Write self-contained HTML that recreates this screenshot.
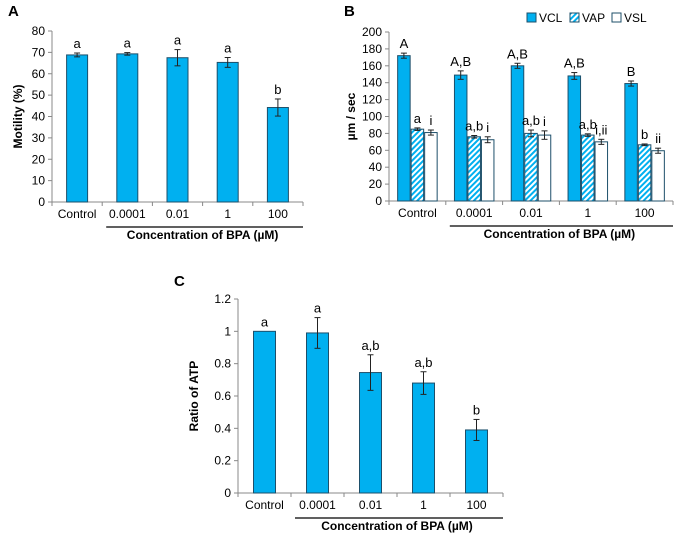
<!DOCTYPE html>
<html><head><meta charset="utf-8"><style>
body{margin:0;background:#fff;width:685px;height:536px;overflow:hidden}
svg{font-family:"Liberation Sans",Arial,sans-serif}
</style></head><body>
<svg id="s" width="685" height="536">
<defs><pattern id="hatch" patternUnits="userSpaceOnUse" width="4" height="4" patternTransform="rotate(45)"><rect width="4" height="4" fill="#fff"/><rect width="2" height="4" fill="#00b0f0"/></pattern></defs>
</svg>
<script>
const cats=["Control","0.0001","0.01","1","100"];
const motVals=[68.8,69.3,67.5,65.3,44.2];
const motErr=[0.9,0.6,3.8,2.3,4.0];
const motLetters=["a","a","a","a","b"];
const vclVals=[172,149,160,148,139];
const vclErr=[3,5,3,4,3];
const vclLetters=["A","A,B","A,B","A,B","B"];
const vapVals=[85,76,80,78,66.5];
const vapErr=[1.5,1.5,4,1.5,1];
const vapLetters=["a","a,b","a,b","a,b","b"];
const vslVals=[81,72.5,78,70,59.5];
const vslErr=[3,3.5,5,3,3];
const vslLetters=["i","i","i","i,ii","ii"];
const atpVals=[1,0.99,0.745,0.68,0.39];
const atpErr=[0,0.095,0.11,0.07,0.065];
const atpLetters=["a","a","a,b","a,b","b"];
const motTicks=[0,10,20,30,40,50,60,70,80];
const velTicks=[0,20,40,60,80,100,120,140,160,180,200];
const atpTicks=[0,0.2,0.4,0.6,0.8,1,1.2];
const atpTickLabels=["0","0.2","0.4","0.6","0.8","1","1.2"];

const S=document.getElementById('s');const NS="http://www.w3.org/2000/svg";
function el(t,a,txt){const e=document.createElementNS(NS,t);for(const k in a)e.setAttribute(k,a[k]);if(txt!==undefined)e.textContent=txt;S.appendChild(e);return e;}
function txt(x,y,s,opt,name){const e=el('text',Object.assign({x:x,y:y,'font-size':12,fill:'#000','text-anchor':'middle'},opt||{}),s);

return e;}

function panel(p){
  const y=v=>p.y0-(v-p.min)/(p.max-p.min)*(p.y0-p.y1);
  const cw=(p.x1-p.x0)/cats.length;
  const ax=el('line',{x1:p.x0,y1:p.y1,x2:p.x0,y2:p.y0,stroke:'#888'});
  
  
  const bx=el('line',{x1:p.x0,y1:p.y0,x2:p.x1,y2:p.y0,stroke:'#888'});
  
  
  p.ticks.forEach((t,i)=>{el('line',{x1:p.x0-4,y1:y(t),x2:p.x0,y2:y(t),stroke:'#888'});
    txt(p.x0-7,y(t)+4,p.tickLabels?p.tickLabels[i]:String(t),{'text-anchor':'end'},p.id+'-y-tick');});
  for(let i=0;i<=cats.length;i++)el('line',{x1:p.x0+i*cw,y1:p.y0,x2:p.x0+i*cw,y2:p.y0+4,stroke:'#888'});
  cats.forEach((c,i)=>txt(p.x0+(i+0.5)*cw,p.y0+16,c,{},p.id+'-x-tick'));
  const ul=el('line',{x1:p.x0+cw+4,y1:p.y0+25,x2:p.x1,y2:p.y0+25,stroke:'#000','stroke-width':1.2});
  
  
  txt((p.x0+cw+p.x1)/2,p.y0+37,'Concentration of BPA (µM)',{'font-weight':'bold'},p.id+'-x-axis-title');
  txt(p.ylx,(p.y0+p.y1)/2,p.ylabel,{'font-weight':'bold',transform:`rotate(-90 ${p.ylx} ${(p.y0+p.y1)/2})`},p.id+'-y-axis-title');
  txt(p.lx,p.ly,p.label,{'font-weight':'bold','font-size':15,'text-anchor':'start'},p.id+'-panel-label');
  const n=p.series.length;
  p.series.forEach((s,k)=>{
    s.vals.forEach((v,i)=>{
      const cx=p.x0+(i+0.5)*cw+(k-(n-1)/2)*(p.bw+1);
      const r=el('rect',{x:cx-p.bw/2,y:y(v),width:p.bw,height:p.y0-y(v),fill:s.fill,stroke:'#1d4f6a','stroke-width':1});
      
      
      const e=s.err[i];
      if(e>0){el('line',{x1:cx,y1:y(v+e),x2:cx,y2:y(v-e),stroke:'#222'});
        el('line',{x1:cx-3,y1:y(v+e),x2:cx+3,y2:y(v+e),stroke:'#222'});
        el('line',{x1:cx-3,y1:y(v-e),x2:cx+3,y2:y(v-e),stroke:'#222'});}
      txt(cx,y(v+e)-5,s.letters[i],{'font-size':13},p.id+'-sig-letter');
    });
  });
}
panel({id:'a',x0:52,x1:303,y0:202,y1:31,min:0,max:80,ticks:motTicks,ylabel:'Motility (%)',ylx:22,label:'A',lx:8,ly:16,bw:21,
  series:[{name:'motility',vals:motVals,err:motErr,letters:motLetters,fill:'#00b0f0'}]});
panel({id:'b',x0:389,x1:673,y0:201,y1:32,min:0,max:200,ticks:velTicks,ylabel:'µm / sec',ylx:355,label:'B',lx:344,ly:16,bw:12.5,
  series:[{name:'vcl',vals:vclVals,err:vclErr,letters:vclLetters,fill:'#00b0f0'},
          {name:'vap',vals:vapVals,err:vapErr,letters:vapLetters,fill:'url(#hatch)'},
          {name:'vsl',vals:vslVals,err:vslErr,letters:vslLetters,fill:'#fff'}]});
panel({id:'c',x0:238,x1:503,y0:493,y1:299,min:0,max:1.2,ticks:atpTicks,tickLabels:atpTickLabels,ylabel:'Ratio of ATP',ylx:198,label:'C',lx:174,ly:286,bw:22,
  series:[{name:'atp',vals:atpVals,err:atpErr,letters:atpLetters,fill:'#00b0f0'}]});
[['VCL','#00b0f0',527],['VAP','url(#hatch)',570],['VSL','#fff',612]].forEach(l=>{
  const r=el('rect',{x:l[2],y:13,width:9,height:9,fill:l[1],stroke:'#1d4f6a'});
  
  
  txt(l[2]+12,22,l[0],{'text-anchor':'start'},'legend-entry-'+l[0].toLowerCase());
});
</script>
</body></html>
